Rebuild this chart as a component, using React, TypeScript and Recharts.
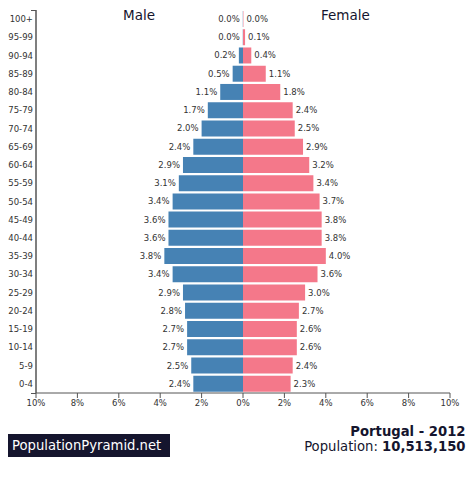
import { BarChart, Bar, XAxis, YAxis, LabelList } from "recharts";

const ageGroups = ["100+", "95-99", "90-94", "85-89", "80-84", "75-79", "70-74", "65-69", "60-64", "55-59", "50-54", "45-49", "40-44", "35-39", "30-34", "25-29", "20-24", "15-19", "10-14", "5-9", "0-4"];
const male = [0.01, 0.01, 0.2, 0.5, 1.1, 1.7, 2.0, 2.4, 2.9, 3.1, 3.4, 3.6, 3.6, 3.8, 3.4, 2.9, 2.8, 2.7, 2.7, 2.5, 2.4];
const female = [0.02, 0.1, 0.4, 1.1, 1.8, 2.4, 2.5, 2.9, 3.2, 3.4, 3.7, 3.8, 3.8, 4.0, 3.6, 3.0, 2.7, 2.6, 2.6, 2.4, 2.3];
const xTicks = [-10, -8, -6, -4, -2, 0, 2, 4, 6, 8, 10];

const data = ageGroups.map((age, i) => ({ age, male: -male[i], female: female[i] }));

const FONT = "'DejaVu Sans', sans-serif";
const DARK = "#15152e";
const AXIS = "#555";

function barLabel(side: "left" | "right") {
  return (props: any) => {
    const { x, y, width, height, value } = props;
    const end = side === "left" ? Math.min(x, x + width) - 3 : Math.max(x, x + width) + 3;
    return (
      <text x={end} y={y + height / 2 + 3} textAnchor={side === "left" ? "end" : "start"} fontSize={8.5} fill="#333" fontFamily={FONT}>
        {Math.abs(value).toFixed(1)}%
      </text>
    );
  };
}

function Overlay({ left, top, style, children }: any) {
  return <div style={{ position: "absolute", left, top, fontFamily: FONT, color: DARK, whiteSpace: "nowrap", ...style }}>{children}</div>;
}

export default function App() {
  return (
    <div style={{ position: "absolute", left: 0, top: 0, width: 474, height: 478, background: "#fff", overflow: "hidden" }}>
      <BarChart
        width={474}
        height={478}
        data={data}
        layout="vertical"
        stackOffset="sign"
        barCategoryGap={1}
        margin={{ top: 10, right: 24, bottom: 55, left: 0 }}
      >
        <XAxis
          type="number"
          domain={[-10, 10]}
          ticks={xTicks}
          tickFormatter={(v: number) => `${Math.abs(v)}%`}
          tick={{ fontSize: 8.5, fill: "#333", fontFamily: FONT }}
          tickSize={5}
          tickMargin={2}
          stroke={AXIS}
          height={30}
          interval={0}
        />
        <YAxis
          type="category"
          dataKey="age"
          width={36}
          tick={{ fontSize: 8.5, fill: "#333", fontFamily: FONT }}
          tickLine={false}
          tickSize={0}
          tickMargin={3}
          stroke={AXIS}
          strokeWidth={1.5}
          interval={0}
        />
        <Bar dataKey="male" stackId="pop" fill="#4682b4" isAnimationActive={false}>
          <LabelList dataKey="male" content={barLabel("left")} />
        </Bar>
        <Bar dataKey="female" stackId="pop" fill="#f4788a" isAnimationActive={false}>
          <LabelList dataKey="female" content={barLabel("right")} />
        </Bar>
      </BarChart>

      <div style={{ position: "absolute", left: 31, top: 10, width: 5, height: 1, background: AXIS }} />
      <div style={{ position: "absolute", left: 31, top: 393, width: 5, height: 1, background: AXIS }} />

      <Overlay left={123} top={7} style={{ fontSize: 13.5 }}>Male</Overlay>
      <Overlay left={321} top={7} style={{ fontSize: 13.5 }}>Female</Overlay>

      <div style={{ position: "absolute", left: 8, top: 434, width: 162, height: 23, background: DARK, color: "#fff", fontFamily: FONT, fontSize: 13.2, lineHeight: "23px", paddingLeft: 4, boxSizing: "border-box", whiteSpace: "nowrap" }}>
        PopulationPyramid.net
      </div>

      <Overlay left={250} top={424} style={{ width: 215.5, textAlign: "right", fontSize: 13.2, fontWeight: 700 }}>Portugal - 2012</Overlay>
      <Overlay left={250} top={439} style={{ width: 215.5, textAlign: "right", fontSize: 13.2 }}>
        Population: <b>10,513,150</b>
      </Overlay>
    </div>
  );
}
